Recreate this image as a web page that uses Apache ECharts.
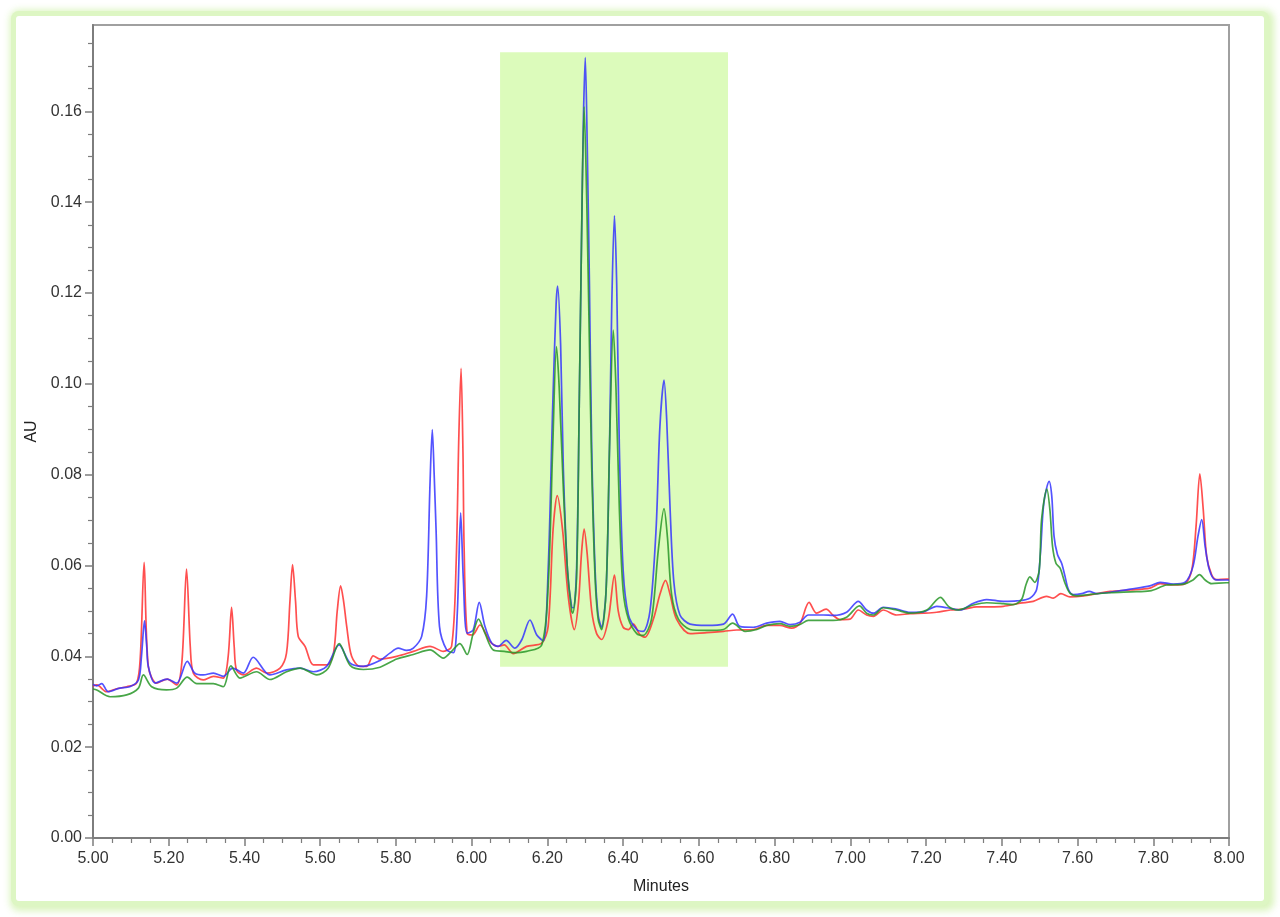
<!DOCTYPE html>
<html><head><meta charset="utf-8">
<script src="https://cdn.jsdelivr.net/npm/echarts@6/dist/echarts.min.js"></script>
<style>
html,body{margin:0;padding:0;background:#fff;width:1280px;height:917px;overflow:hidden;}
#frame{position:absolute;left:16px;top:16px;width:1248px;height:885px;background:#fff;box-shadow:0 0 0 5px #ddf6c3, 2px 2px 7px 8px rgba(214,243,182,0.9);border-radius:3px;}
#chart{position:absolute;left:0;top:0;width:1280px;height:917px;}
</style></head><body>
<div id="frame"></div><div id="chart"></div>
<script>
const FONT = '"Liberation Sans", Arial, Helvetica, sans-serif';

const xTickLabels = [5.0,5.2,5.4,5.6,5.8,6.0,6.2,6.4,6.6,6.8,7.0,7.2,7.4,7.6,7.8,8.0];
const yMajorTicks = [0,0.02,0.04,0.06,0.08,0.10,0.12,0.14,0.16];
const yMinorTicks = [0.005,0.01,0.015,0.025,0.03,0.035,0.045,0.05,0.055,0.065,0.07,0.075,0.085,0.09,0.095,0.105,0.11,0.115,0.125,0.13,0.135,0.145,0.15,0.155,0.165,0.17,0.175];
const highlightRange = [[6.075, 0.0377], [6.677, 0.173]];

const redData = [
[5.000,0.0335],[5.010,0.0337],[5.036,0.0322],[5.060,0.0328],[5.089,0.0333],[5.115,0.0341],[5.125,0.0400],[5.135,0.0607],[5.146,0.0378],[5.168,0.0341],
[5.196,0.0350],[5.221,0.0337],[5.235,0.0390],[5.247,0.0592],[5.257,0.0420],[5.265,0.0363],[5.291,0.0348],[5.318,0.0356],[5.344,0.0352],[5.357,0.0400],
[5.366,0.0508],[5.373,0.0420],[5.379,0.0370],[5.397,0.0359],[5.432,0.0374],[5.459,0.0363],[5.494,0.0374],[5.511,0.0407],[5.520,0.0520],[5.527,0.0602],
[5.535,0.0520],[5.542,0.0444],[5.560,0.0422],[5.582,0.0381],[5.617,0.0381],[5.635,0.0407],[5.645,0.0500],[5.654,0.0555],[5.662,0.0520],[5.670,0.0466],
[5.683,0.0400],[5.705,0.0378],[5.723,0.0378],[5.740,0.0401],[5.758,0.0394],[5.802,0.0400],[5.846,0.0411],[5.890,0.0422],[5.925,0.0411],[5.947,0.0422],
[5.959,0.0605],[5.966,0.0880],[5.972,0.1034],[5.977,0.0850],[5.980,0.0642],[5.988,0.0451],[6.002,0.0447],[6.022,0.0469],[6.048,0.0433],[6.070,0.0422],
[6.086,0.0425],[6.110,0.0406],[6.145,0.0422],[6.185,0.0429],[6.202,0.0466],[6.215,0.0679],[6.226,0.0754],[6.240,0.0679],[6.255,0.0532],[6.271,0.0459],
[6.282,0.0518],[6.290,0.0626],[6.297,0.0680],[6.305,0.0626],[6.317,0.0500],[6.330,0.0450],[6.343,0.0437],[6.361,0.0482],[6.377,0.0579],[6.387,0.0500],
[6.400,0.0464],[6.414,0.0459],[6.427,0.0471],[6.444,0.0448],[6.458,0.0442],[6.480,0.0482],[6.497,0.0536],[6.512,0.0567],[6.524,0.0536],[6.541,0.0482],
[6.577,0.0450],[6.621,0.0452],[6.665,0.0455],[6.700,0.0458],[6.744,0.0459],[6.779,0.0468],[6.814,0.0468],[6.845,0.0462],[6.867,0.0472],[6.891,0.0519],
[6.911,0.0495],[6.936,0.0504],[6.955,0.0490],[6.973,0.0481],[6.999,0.0482],[7.021,0.0502],[7.043,0.0491],[7.061,0.0488],[7.087,0.0502],[7.122,0.0491],
[7.158,0.0494],[7.193,0.0495],[7.228,0.0497],[7.264,0.0502],[7.299,0.0504],[7.334,0.0509],[7.369,0.0509],[7.404,0.0510],[7.448,0.0517],[7.483,0.0521],
[7.518,0.0532],[7.536,0.0528],[7.556,0.0538],[7.580,0.0531],[7.616,0.0533],[7.651,0.0538],[7.686,0.0543],[7.740,0.0546],[7.791,0.0550],[7.818,0.0560],
[7.853,0.0557],[7.884,0.0560],[7.902,0.0591],[7.913,0.0686],[7.923,0.0802],[7.932,0.0723],[7.941,0.0620],[7.954,0.0580],[7.967,0.0569],[7.993,0.0570],[8.000,0.0570]
];

const blueData = [
[5.000,0.0338],[5.010,0.0335],[5.023,0.0340],[5.040,0.0322],[5.071,0.0330],[5.097,0.0333],[5.120,0.0348],[5.128,0.0400],[5.136,0.0478],[5.142,0.0420],
[5.146,0.0378],[5.164,0.0341],[5.196,0.0350],[5.221,0.0341],[5.249,0.0389],[5.269,0.0363],[5.291,0.0359],[5.318,0.0363],[5.344,0.0356],[5.369,0.0374],
[5.397,0.0363],[5.423,0.0398],[5.467,0.0359],[5.511,0.0370],[5.547,0.0374],[5.582,0.0366],[5.617,0.0378],[5.650,0.0425],[5.679,0.0385],[5.714,0.0378],
[5.758,0.0391],[5.784,0.0407],[5.806,0.0418],[5.828,0.0413],[5.846,0.0418],[5.868,0.0444],[5.881,0.0532],[5.890,0.0780],[5.896,0.0899],[5.901,0.0800],
[5.906,0.0679],[5.915,0.0466],[5.934,0.0414],[5.952,0.0408],[5.962,0.0495],[5.971,0.0716],[5.978,0.0569],[5.988,0.0451],[6.004,0.0458],[6.020,0.0519],
[6.035,0.0466],[6.053,0.0429],[6.070,0.0422],[6.091,0.0435],[6.114,0.0418],[6.132,0.0436],[6.154,0.0480],[6.172,0.0447],[6.189,0.0434],[6.202,0.0590],
[6.214,0.0950],[6.223,0.1175],[6.227,0.1215],[6.235,0.1084],[6.242,0.0815],[6.253,0.0590],[6.264,0.0509],[6.269,0.0507],[6.277,0.0590],[6.284,0.0950],
[6.290,0.1309],[6.295,0.1579],[6.300,0.1718],[6.305,0.1534],[6.311,0.1219],[6.317,0.0859],[6.326,0.0590],[6.334,0.0491],[6.343,0.0464],[6.355,0.0545],
[6.364,0.0859],[6.370,0.1174],[6.377,0.1370],[6.383,0.1219],[6.390,0.0859],[6.400,0.0590],[6.414,0.0491],[6.436,0.0459],[6.453,0.0455],[6.471,0.0500],
[6.487,0.0680],[6.497,0.0904],[6.508,0.1008],[6.515,0.0922],[6.524,0.0725],[6.534,0.0563],[6.550,0.0491],[6.577,0.0471],[6.621,0.0468],[6.665,0.0471],
[6.689,0.0493],[6.708,0.0466],[6.744,0.0464],[6.779,0.0473],[6.814,0.0477],[6.841,0.0470],[6.867,0.0475],[6.889,0.0491],[6.929,0.0491],[6.955,0.0490],
[6.990,0.0497],[7.021,0.0521],[7.043,0.0502],[7.061,0.0495],[7.087,0.0508],[7.122,0.0504],[7.158,0.0497],[7.193,0.0498],[7.228,0.0510],[7.255,0.0507],
[7.290,0.0502],[7.325,0.0517],[7.360,0.0525],[7.404,0.0521],[7.439,0.0522],[7.474,0.0528],[7.492,0.0547],[7.502,0.0627],[7.511,0.0738],[7.525,0.0785],
[7.532,0.0752],[7.538,0.0664],[7.547,0.0624],[7.558,0.0605],[7.567,0.0576],[7.576,0.0547],[7.589,0.0536],[7.611,0.0538],[7.631,0.0543],[7.651,0.0538],
[7.686,0.0541],[7.740,0.0548],[7.791,0.0555],[7.818,0.0563],[7.853,0.0559],[7.884,0.0563],[7.905,0.0598],[7.918,0.0664],[7.928,0.0701],[7.937,0.0642],
[7.948,0.0591],[7.963,0.0569],[7.993,0.0568],[8.000,0.0568]
];

const greenData = [
[5.000,0.0328],[5.010,0.0326],[5.045,0.0311],[5.089,0.0315],[5.120,0.0330],[5.133,0.0359],[5.155,0.0333],[5.194,0.0326],[5.221,0.0330],[5.249,0.0354],
[5.274,0.0340],[5.318,0.0340],[5.344,0.0333],[5.364,0.0379],[5.388,0.0352],[5.432,0.0366],[5.467,0.0349],[5.511,0.0366],[5.547,0.0374],[5.591,0.0359],
[5.621,0.0374],[5.650,0.0428],[5.679,0.0380],[5.714,0.0371],[5.758,0.0376],[5.802,0.0394],[5.846,0.0404],[5.890,0.0414],[5.925,0.0396],[5.947,0.0411],
[5.969,0.0428],[5.988,0.0404],[6.004,0.0451],[6.018,0.0482],[6.035,0.0451],[6.057,0.0414],[6.086,0.0411],[6.110,0.0408],[6.145,0.0411],[6.185,0.0425],
[6.202,0.0555],[6.214,0.0859],[6.224,0.1082],[6.231,0.0994],[6.242,0.0771],[6.253,0.0590],[6.264,0.0500],[6.267,0.0495],[6.277,0.0572],[6.284,0.0950],
[6.290,0.1309],[6.297,0.1610],[6.304,0.1399],[6.311,0.1084],[6.317,0.0815],[6.326,0.0572],[6.334,0.0482],[6.343,0.0459],[6.355,0.0545],[6.364,0.0859],
[6.374,0.1118],[6.381,0.0994],[6.390,0.0725],[6.400,0.0545],[6.414,0.0482],[6.436,0.0450],[6.453,0.0446],[6.475,0.0482],[6.493,0.0635],[6.508,0.0725],
[6.517,0.0662],[6.528,0.0536],[6.546,0.0482],[6.577,0.0459],[6.621,0.0457],[6.665,0.0459],[6.689,0.0473],[6.722,0.0455],[6.753,0.0459],[6.779,0.0468],
[6.814,0.0472],[6.841,0.0466],[6.867,0.0470],[6.889,0.0479],[6.920,0.0479],[6.955,0.0479],[6.990,0.0486],[7.024,0.0511],[7.043,0.0495],[7.061,0.0491],
[7.087,0.0507],[7.122,0.0502],[7.158,0.0495],[7.202,0.0502],[7.238,0.0530],[7.259,0.0510],[7.282,0.0502],[7.325,0.0513],[7.360,0.0518],[7.404,0.0516],
[7.430,0.0514],[7.452,0.0525],[7.464,0.0558],[7.474,0.0575],[7.487,0.0563],[7.499,0.0591],[7.505,0.0701],[7.519,0.0768],[7.527,0.0723],[7.534,0.0642],
[7.543,0.0605],[7.554,0.0594],[7.567,0.0561],[7.580,0.0539],[7.598,0.0533],[7.631,0.0536],[7.686,0.0540],[7.740,0.0542],[7.791,0.0544],[7.835,0.0557],
[7.880,0.0559],[7.905,0.0568],[7.922,0.0580],[7.937,0.0568],[7.954,0.0560],[7.993,0.0562],[8.000,0.0562]
];

const AXIS_COLOR = '#7d7d7d';
const chart = echarts.init(document.getElementById('chart'), null, {renderer: 'canvas'});

function lineSeries(name, data, color, z) {
  return {
    name, type: 'line', data, xAxisIndex: 0, yAxisIndex: 0,
    showSymbol: false, symbol: 'none', smooth: 0.3,
    lineStyle: {color, width: 1.7, opacity: 0.85}, z, silent: true, animation: false
  };
}

chart.setOption({
  backgroundColor: 'transparent',
  animation: false,
  textStyle: {fontFamily: FONT},
  grid: {left: 93, right: 51, top: 25, bottom: 79, show: true, borderColor: '#a0a0a0', borderWidth: 2, backgroundColor: 'transparent'},
  xAxis: [{
    type: 'value', min: 5, max: 8, interval: 0.2,
    name: 'Minutes', nameLocation: 'middle', nameGap: 41,
    nameTextStyle: {fontSize: 16, color: '#222', fontFamily: FONT},
    axisLine: {show: true, onZero: false, lineStyle: {color: AXIS_COLOR, width: 2}},
    axisTick: {show: true, length: 8, lineStyle: {color: AXIS_COLOR, width: 1.5}},
    minorTick: {show: true, splitNumber: 4, length: 5, lineStyle: {color: AXIS_COLOR, width: 1.2}},
    axisLabel: {customValues: xTickLabels, formatter: v => v.toFixed(2), margin: 13, fontSize: 16, color: '#333', fontFamily: FONT},
    splitLine: {show: false}, minorSplitLine: {show: false}
  }],
  yAxis: [{
    type: 'value', min: 0, max: 0.179, position: 'left',
    name: 'AU', nameLocation: 'middle', nameGap: 51,
    nameTextStyle: {fontSize: 16, color: '#222', fontFamily: FONT},
    axisLine: {show: true, onZero: false, lineStyle: {color: AXIS_COLOR, width: 2}},
    axisTick: {show: true, length: 8, customValues: yMajorTicks, lineStyle: {color: AXIS_COLOR, width: 1.5}},
    axisLabel: {customValues: yMajorTicks, formatter: v => v.toFixed(2), margin: 11, fontSize: 16, color: '#333', fontFamily: FONT},
    splitLine: {show: false}
  }, {
    type: 'value', min: 0, max: 0.179, position: 'left',
    axisLine: {show: false},
    axisTick: {show: true, length: 5, customValues: yMinorTicks, lineStyle: {color: AXIS_COLOR, width: 1.2}},
    axisLabel: {show: false},
    splitLine: {show: false}
  }],
  series: [
    {
      type: 'line', data: [], xAxisIndex: 0, yAxisIndex: 0, z: 1, silent: true,
      markArea: {
        silent: true,
        itemStyle: {color: '#dcfbbb'},
        data: [[{xAxis: highlightRange[0][0], yAxis: highlightRange[0][1]}, {xAxis: highlightRange[1][0], yAxis: highlightRange[1][1]}]]
      }
    },
    lineSeries('red', redData, '#ff3030', 3),
    lineSeries('blue', blueData, '#3535ff', 4),
    lineSeries('green', greenData, '#289628', 5)
  ]
});
</script></body></html>
